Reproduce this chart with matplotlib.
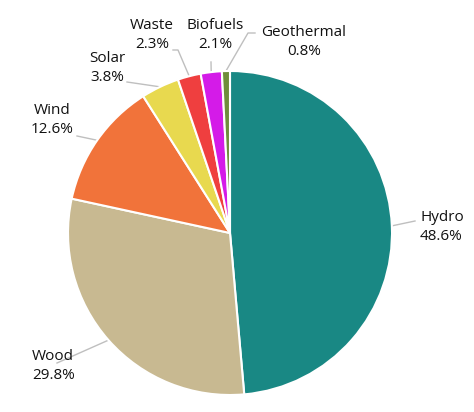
import numpy as np
import matplotlib
matplotlib.use("Agg")
import matplotlib.pyplot as plt

labels = ["Hydro", "Wood", "Wind", "Solar", "Waste", "Biofuels", "Geothermal"]
values = [48.6, 29.8, 12.6, 3.8, 2.3, 2.1, 0.8]
colors = ["#198884", "#c8b991", "#f1733a", "#e8d94f", "#ef3f3f", "#d41be8", "#6f8d3b"]

W, H = 474, 412
CX, CY, R = 230, 233, 162

fig = plt.figure(figsize=(W / 100, H / 100), dpi=100)
ax = fig.add_axes([0, 0, 1, 1])

wedges, _ = ax.pie(values, colors=colors, startangle=90, counterclock=False,
                   radius=1.0, center=(0, 0), frame=True,
                   wedgeprops=dict(edgecolor="white", linewidth=1.5))
ax.set_xlim(-CX / R, (W - CX) / R)
ax.set_ylim(-(H - CY) / R, CY / R)
ax.axis("off")

def px(x, y):
    return ((x - CX) / R, (CY - y) / R)

# label layout: text center (px), alignment, leader path (px, from label side)
layout = {
    "Hydro":      dict(xy=(420, 227), ha="left",   path=[(415, 221)]),
    "Wood":       dict(xy=(32, 366),  ha="left",   path=[(57, 363)]),
    "Wind":       dict(xy=(52, 120),  ha="center", path=[(77, 136)]),
    "Solar":      dict(xy=(107, 68),  ha="center", path=[(127, 82)]),
    "Waste":      dict(xy=(152, 35),  ha="center", path=[(173, 50), (178, 50)]),
    "Biofuels":   dict(xy=(215, 35),  ha="center", path=[(211, 62)]),
    "Geothermal": dict(xy=(304, 42),  ha="center", path=[(255, 33), (248, 33)]),
}

for w, lab, v in zip(wedges, labels, values):
    mid = np.deg2rad((w.theta1 + w.theta2) / 2)
    edge = (np.cos(mid), np.sin(mid))
    L = layout[lab]
    pts = [px(*p) for p in L["path"]] + [edge]
    xs, ys = zip(*pts)
    ax.plot(xs, ys, color="#bfbfbf", lw=1.0, zorder=0.5)
    tx, ty = px(*L["xy"])
    ax.text(tx, ty, f"{lab}\n{v:.1f}%", ha=L["ha"], va="center",
            multialignment=L["ha"], fontsize=11, family="Open Sans",
            color="#111111", linespacing=1.35)

fig.savefig("out.png", dpi=100, facecolor="white")
